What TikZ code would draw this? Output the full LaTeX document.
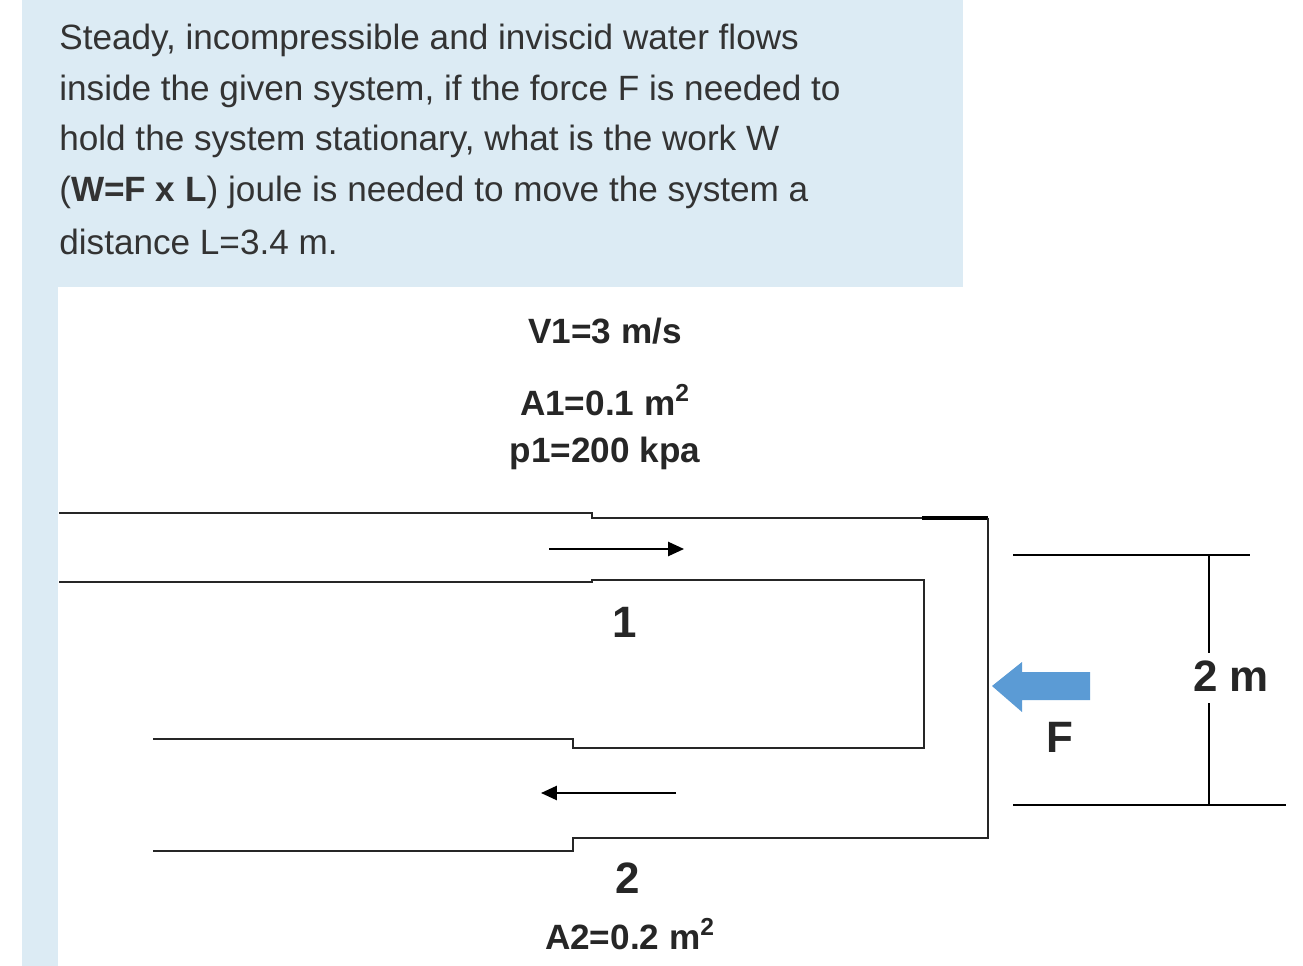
\documentclass[tikz,border=0pt]{standalone}
\usepackage{fontspec}
\setmainfont{Liberation Sans}
\usetikzlibrary{arrows.meta}
\definecolor{panel}{HTML}{DCEBF4}
\definecolor{farrow}{HTML}{5B9BD5}
\begin{document}
\begin{tikzpicture}[x=0.02cm,y=-0.02cm,
  pipe/.style={line width=1.4pt,black!85},
  lbl/.style={font=\bfseries\fontsize{20}{22}\selectfont,inner sep=0pt,text=black!85},
  big/.style={font=\bfseries\fontsize{25}{28}\selectfont,inner sep=0pt,text=black!85},
  qtext/.style={font=\fontsize{20}{22}\selectfont,anchor=west,inner sep=0pt,text=black!80},
  flow/.style={line width=1.2pt,-{Triangle[length=9pt,width=8pt]}}]
\useasboundingbox (0,0) rectangle (1303,966);
\fill[white] (0,0) rectangle (1303,966);
\fill[panel] (22,0) rectangle (963,287);
\fill[panel] (22,287) rectangle (58,966);
\node[qtext] (t1) at (59,40) {Steady, incompressible and inviscid water flows};
\node[qtext] (t2) at (59,91) {inside the given system, if the force F is needed to};
\node[qtext] (t3) at (59,141) {hold the system stationary, what is the work W};
\node[qtext] (t4) at (59,192) {(\textbf{W=F x L}) joule is needed to move the system a};
\node[qtext] (t5) at (59,242) {distance L=3.4 m.};
% labels
\node[lbl] (v1) at (605,331) {V1=3 m/s};
\node[lbl] (a1) at (605,400) {A1=0.1 m$^{\mathbf 2}$};
\node[lbl] (p1) at (605,453) {p1=200 kpa};
\node[big] (n1) at (625,622) {1};
\node[big] (n2) at (628,878) {2};
\node[lbl] (a2) at (630,934) {A2=0.2 m$^{\mathbf 2}$};
% pipes
\draw[pipe] (59,513) -- (592,513) -- (592,518) -- (922,518);
\draw[line width=2.4pt] (922,518) -- (988,518);
\draw[pipe] (988,518) -- (988,838) -- (573,838) -- (573,851) -- (153,851);
\draw[pipe] (59,582) -- (592,582) -- (592,580) -- (924,580) -- (924,748) -- (573,748) -- (573,739) -- (153,739);
% flow arrows
\coordinate (fa1) at (549,549); \coordinate (fb1) at (684,549);
\coordinate (fa2) at (676,793); \coordinate (fb2) at (541,793);
\draw[flow] (fa1) -- (fb1);
\draw[flow] (fa2) -- (fb2);
% force arrow
\fill[farrow] (1090,672) -- (1022,672) -- (1022,662) -- (992,686) -- (1022,712) -- (1022,700) -- (1090,700) -- cycle;
\node[big] (F) at (1060,737) {F};
% dimension
\draw[line width=1pt] (1013,555) -- (1250,555);
\draw[line width=1pt] (1013,805) -- (1286,805);
\node[big] (dim) at (1231,676) {2 m};
\coordinate (dtop) at (1209,555); \coordinate (dbot) at (1209,805);
\draw[line width=1pt] (dtop) -- (1209,653);
\draw[line width=1pt] (1209,703) -- (dbot);
\end{tikzpicture}
\end{document}
